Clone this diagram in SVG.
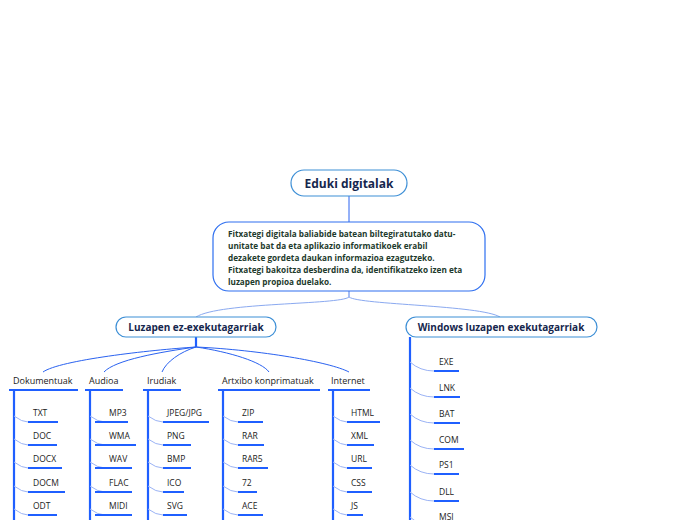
<svg xmlns="http://www.w3.org/2000/svg" width="696" height="520" viewBox="0 0 696 520">
<style>
text{font-family:"Open Sans","Noto Sans",sans-serif}
.box{fill:#fff;stroke:#3d8fd6;stroke-width:1.2}
.t1{font-size:12px;font-weight:bold;fill:#15264d;text-anchor:middle}
.t2{font-size:10px;font-weight:bold;fill:#15264d;text-anchor:middle}
.d{font-size:8.2px;font-weight:bold;fill:#1d3a2c}
.c{font-size:9px;fill:#222}
.it{font-size:8.5px;fill:#222}
.ul{stroke:#1f5fff;stroke-width:2;fill:none}
.v{stroke:#1f5fff;stroke-width:2.2;fill:none}
.tw{stroke:#9bb3f5;stroke-width:1;fill:none}
.cv{stroke:#2a62f0;stroke-width:1;fill:none}
.cl{stroke:#8aa9f0;stroke-width:1;fill:none}
</style>
<g id="connectors">
<path class="cv" d="M349 196V222"/>
<path class="cl" d="M349 291V297C340 305 220 302 196 317"/>
<path class="cl" d="M349 291V297C360 305 480 305 500 317"/>
<path class="v" d="M196 337V347"/>
<path class="cv" d="M196 347C150 350 60 360 43 372"/>
<path class="cv" d="M196 347C160 352 115 360 104 372"/>
<path class="cv" d="M196 347C180 352 166 362 162 372"/>
<path class="cv" d="M196 347C230 352 262 362 269 372"/>
<path class="cv" d="M196 347C260 350 330 362 349 372"/>
<path class="v" d="M14 390V520M90 390V520M148 390V520M223 390V520M333 390V520M410 337V520"/>
<path class="ul" d="M9 390H78M85 390H123M143 390H181M218 390H320M328 390H370"/>
<g id="twigs">
<path class="tw" d="M14 416Q22 422 28 422M14 439Q22 445 28 445M14 462Q22 468 28 468M14 486Q22 492 28 492M14 509Q22 515 28 515"/>
<path class="tw" d="M90 416Q98 422 105 422M90 439Q98 445 105 445M90 462Q98 468 105 468M90 486Q98 492 105 492M90 509Q98 515 105 515"/>
<path class="tw" d="M148 416Q156 422 163 422M148 439Q156 445 163 445M148 462Q156 468 163 468M148 486Q156 492 163 492M148 509Q156 515 163 515"/>
<path class="tw" d="M223 416Q231 422 238 422M223 439Q231 445 238 445M223 462Q231 468 238 468M223 486Q231 492 238 492M223 509Q231 515 238 515"/>
<path class="tw" d="M333 416Q341 422 347 422M333 439Q341 445 347 445M333 462Q341 468 347 468M333 486Q341 492 347 492M333 509Q341 515 347 515"/>
<path class="tw" d="M410 362Q420 371 434 371M410 388Q420 397 434 397M410 414Q420 423 434 423M410 440Q420 449 434 449M410 465Q420 474 434 474M410 492Q420 501 434 501M410 517Q420 526 434 526"/>
</g>
<path class="ul" d="M28 422H58M28 445H57M28 468H62M28 492H65M28 515H57"/>
<path class="ul" d="M95 422H128M95 445H136M95 468H132M95 492H132M95 515H132"/>
<path class="ul" d="M163 422H209M163 445H191M163 468H191M163 492H184M163 515H187"/>
<path class="ul" d="M238 422H263M238 445H264M238 468H268M238 492H257M238 515H263"/>
<path class="ul" d="M347 422H380M347 445H374M347 468H372M347 492H372M347 515H363"/>
<path class="ul" d="M434 371H459M434 397H460M434 423H460M434 449H464M434 474H459M434 501H459"/>
</g>
<g id="root"><rect class="box" x="291" y="170" width="116" height="26" rx="13"/><text class="t1" x="349" y="188">Eduki digitalak</text></g>
<g id="desc"><rect class="box" x="213" y="222" width="272" height="69" rx="16" style="stroke:#2e6ff0"/>
<text class="d" x="228" y="237">Fitxategi digitala baliabide batean biltegiratutako datu-</text>
<text class="d" x="228" y="249">unitate bat da eta aplikazio informatikoek erabil</text>
<text class="d" x="228" y="261">dezakete gordeta daukan informazioa ezagutzeko.</text>
<text class="d" x="228" y="273">Fitxategi bakoitza desberdina da, identifikatzeko izen eta</text>
<text class="d" x="228" y="285">luzapen propioa duelako.</text></g>
<g id="luzapen"><rect class="box" x="116" y="317" width="160" height="20" rx="10"/><text class="t2" x="196" y="331">Luzapen ez-exekutagarriak</text></g>
<g id="windows"><rect class="box" x="406" y="317" width="191" height="20" rx="10"/><text class="t2" x="501" y="331">Windows luzapen exekutagarriak</text></g>
<g id="cats">
<text class="c" x="13" y="384">Dokumentuak</text><text class="c" x="89" y="384">Audioa</text><text class="c" x="147" y="384">Irudiak</text><text class="c" x="222" y="384">Artxibo konprimatuak</text><text class="c" x="331" y="384">Internet</text>
</g>
<g id="items">
<text class="it" x="33" y="416">TXT</text><text class="it" x="33" y="439">DOC</text><text class="it" x="33" y="462">DOCX</text><text class="it" x="33" y="486">DOCM</text><text class="it" x="33" y="509">ODT</text>
<text class="it" x="109" y="416">MP3</text><text class="it" x="109" y="439">WMA</text><text class="it" x="109" y="462">WAV</text><text class="it" x="109" y="486">FLAC</text><text class="it" x="109" y="509">MIDI</text>
<text class="it" x="167" y="416">JPEG/JPG</text><text class="it" x="167" y="439">PNG</text><text class="it" x="167" y="462">BMP</text><text class="it" x="167" y="486">ICO</text><text class="it" x="167" y="509">SVG</text>
<text class="it" x="242" y="416">ZIP</text><text class="it" x="242" y="439">RAR</text><text class="it" x="242" y="462">RAR5</text><text class="it" x="242" y="486">72</text><text class="it" x="242" y="509">ACE</text>
<text class="it" x="351" y="416">HTML</text><text class="it" x="351" y="439">XML</text><text class="it" x="351" y="462">URL</text><text class="it" x="351" y="486">CSS</text><text class="it" x="351" y="509">JS</text>
<text class="it" x="439" y="365">EXE</text><text class="it" x="439" y="391">LNK</text><text class="it" x="439" y="417">BAT</text><text class="it" x="439" y="443">COM</text><text class="it" x="439" y="468">PS1</text><text class="it" x="439" y="495">DLL</text><text class="it" x="439" y="520">MSI</text>
</g>
</svg>
